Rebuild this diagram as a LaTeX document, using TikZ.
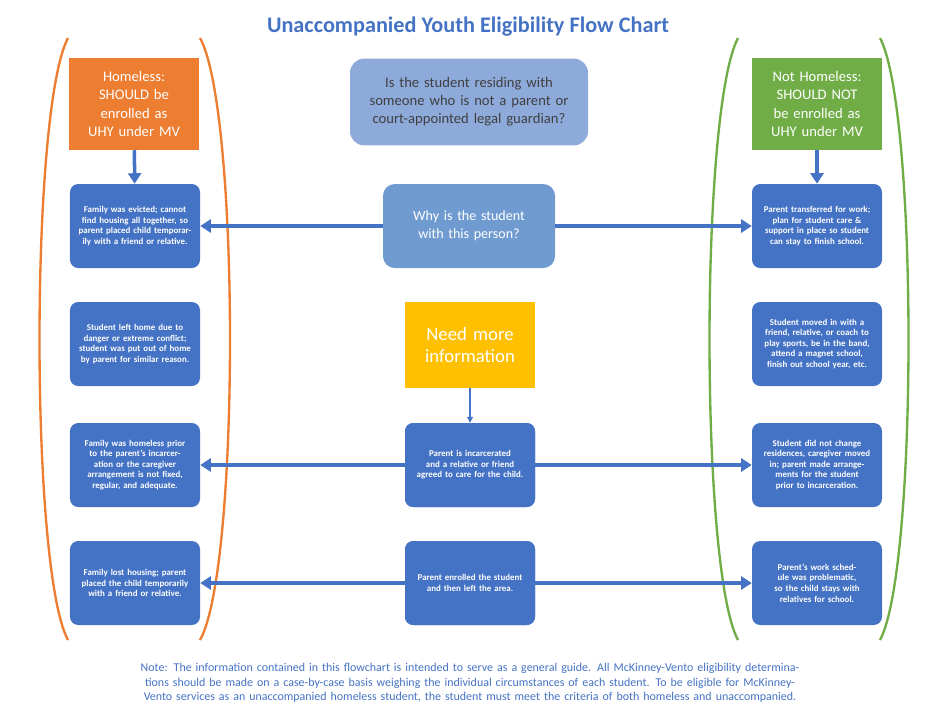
\documentclass[tikz,border=0pt]{standalone}
\usepackage{fontspec}
\setmainfont{Carlito}
\usetikzlibrary{arrows.meta}
\definecolor{uhyblue}{HTML}{4472C4}
\definecolor{uhylight}{HTML}{8EAADB}
\definecolor{uhymid}{HTML}{6F9BD1}
\definecolor{uhyorange}{HTML}{ED7D31}
\definecolor{uhygreen}{HTML}{70AD47}
\definecolor{uhyyellow}{HTML}{FFC000}
\definecolor{uhytitle}{HTML}{4472C4}
\begin{document}
\begin{tikzpicture}[x=0.03cm, y=-0.03cm,
    % Stil für die Fallkästen
        case/.style={rectangle, rounded corners=7pt, fill=uhyblue, text=white, font=\fontsize{7.6}{9}\selectfont\bfseries, text width=3.45cm, align=center, minimum width=3.9cm, minimum height=2.52cm, inner sep=1pt},
    % Stil für die Kopfkästen
        head/.style={rectangle, text=white, font=\fontsize{12.5}{15.5}\selectfont, text width=3.6cm, align=center, minimum width=3.9cm, minimum height=2.76cm, inner sep=1pt},
    % Stil für die Pfeile
        relation/.style={line width=3pt, draw=uhyblue, -{Triangle[length=9pt,width=11pt]}},
        bothways/.style={line width=3pt, draw=uhyblue, {Triangle[length=9pt,width=11pt]}-{Triangle[length=9pt,width=11pt]}}]

        \useasboundingbox (0,0) rectangle (937,714);

        % Titel
        \node[text=uhytitle, font=\fontsize{19}{22}\selectfont\bfseries] (title) at (468,27) {Unaccompanied Youth Eligibility Flow Chart};

        % Klammern
        \draw[uhyorange, line width=2pt] (68,38) .. controls (30,110) and (30,570) .. (68,640);
        \draw[uhyorange, line width=2pt] (200,38) .. controls (240,110) and (240,570) .. (200,640);
        \draw[uhygreen, line width=2pt] (738,38) .. controls (700,110) and (700,570) .. (738,640);
        \draw[uhygreen, line width=2pt] (880,38) .. controls (918,110) and (918,570) .. (880,640);

        % Kopfkästen
        \node[head, fill=uhyorange] (homeless) at (134,104) {Homeless:\\SHOULD be enrolled as UHY under MV};
        \node[head, fill=uhygreen] (nothomeless) at (817,104) {Not Homeless:\\SHOULD NOT be enrolled as UHY under MV};
        \node[rectangle, rounded corners=12pt, fill=uhylight, text=black!75, font=\fontsize{12.5}{15.5}\selectfont, text width=6.6cm, align=center, minimum width=7.14cm, minimum height=2.6cm] (question) at (469,102) {Is the student residing with someone who is not a parent or court-appointed legal guardian?};
        \node[rectangle, rounded corners=10pt, fill=uhymid, text=white, font=\fontsize{12}{15}\selectfont, text width=4.8cm, align=center, minimum width=5.16cm, minimum height=2.52cm] (why) at (469,226) {Why is the student with this person?};
        \node[head, fill=uhyyellow, font=\fontsize{16}{19}\selectfont, minimum height=2.58cm] (more) at (470,345) {Need more information};

        % linke Spalte
        \node[case] (l1) at (135,226) {Family was evicted; cannot find housing all together, so parent placed child temporarily with a friend or relative.};
        \node[case] (l2) at (135,344) {Student left home due to danger or extreme conflict; student was put out of home by parent for similar reason.};
        \node[case] (l3) at (135,465) {Family was homeless prior to the parent’s incarceration or the caregiver arrangement is not fixed, regular, and adequate.};
        \node[case] (l4) at (135,583) {Family lost housing; parent placed the child temporarily with a friend or relative.};

        % mittlere Spalte
        \node[case] (m3) at (470,465) {Parent is incarcerated and a relative or friend agreed to care for the child.};
        \node[case] (m4) at (470,583) {Parent enrolled the student and then left the area.};

        % rechte Spalte
        \node[case] (r1) at (817,226) {Parent transferred for work; plan for student care \& support in place so student can stay to finish school.};
        \node[case] (r2) at (817,344) {Student moved in with a friend, relative, or coach to play sports, be in the band, attend a magnet school, finish out school year, etc.};
        \node[case] (r3) at (817,465) {Student did not change residences, caregiver moved in; parent made arrangements for the student prior to incarceration.};
        \node[case] (r4) at (817,583) {Parent’s work schedule was problematic, so the child stays with relatives for school.};

        % Pfeile
        \draw[relation] (homeless) -- (l1);
        \draw[relation] (nothomeless) -- (r1);
        \draw[relation] (why) -- (l1);
        \draw[relation] (why) -- (r1);
        \draw[uhyblue, line width=1pt, -{Triangle[length=5pt,width=5pt]}] (more) -- (m3);
        \draw[bothways] (l3) -- (r3);
        \draw[bothways] (l4) -- (r4);
        \node[case] at (m3) {Parent is incarcerated and a relative or friend agreed to care for the child.};
        \node[case] at (m4) {Parent enrolled the student and then left the area.};

        % Hinweis
        \node[text=uhyblue, font=\fontsize{10.2}{12.6}\selectfont, text width=24.5cm, align=center] (note) at (470,683) {Note: The information contained in this flowchart is intended to serve as a general guide. All McKinney-Vento eligibility determinations should be made on a case-by-case basis weighing the individual circumstances of each student. To be eligible for McKinney-Vento services as an unaccompanied homeless student, the student must meet the criteria of both homeless and unaccompanied.};
    \end{tikzpicture}
\end{document}
